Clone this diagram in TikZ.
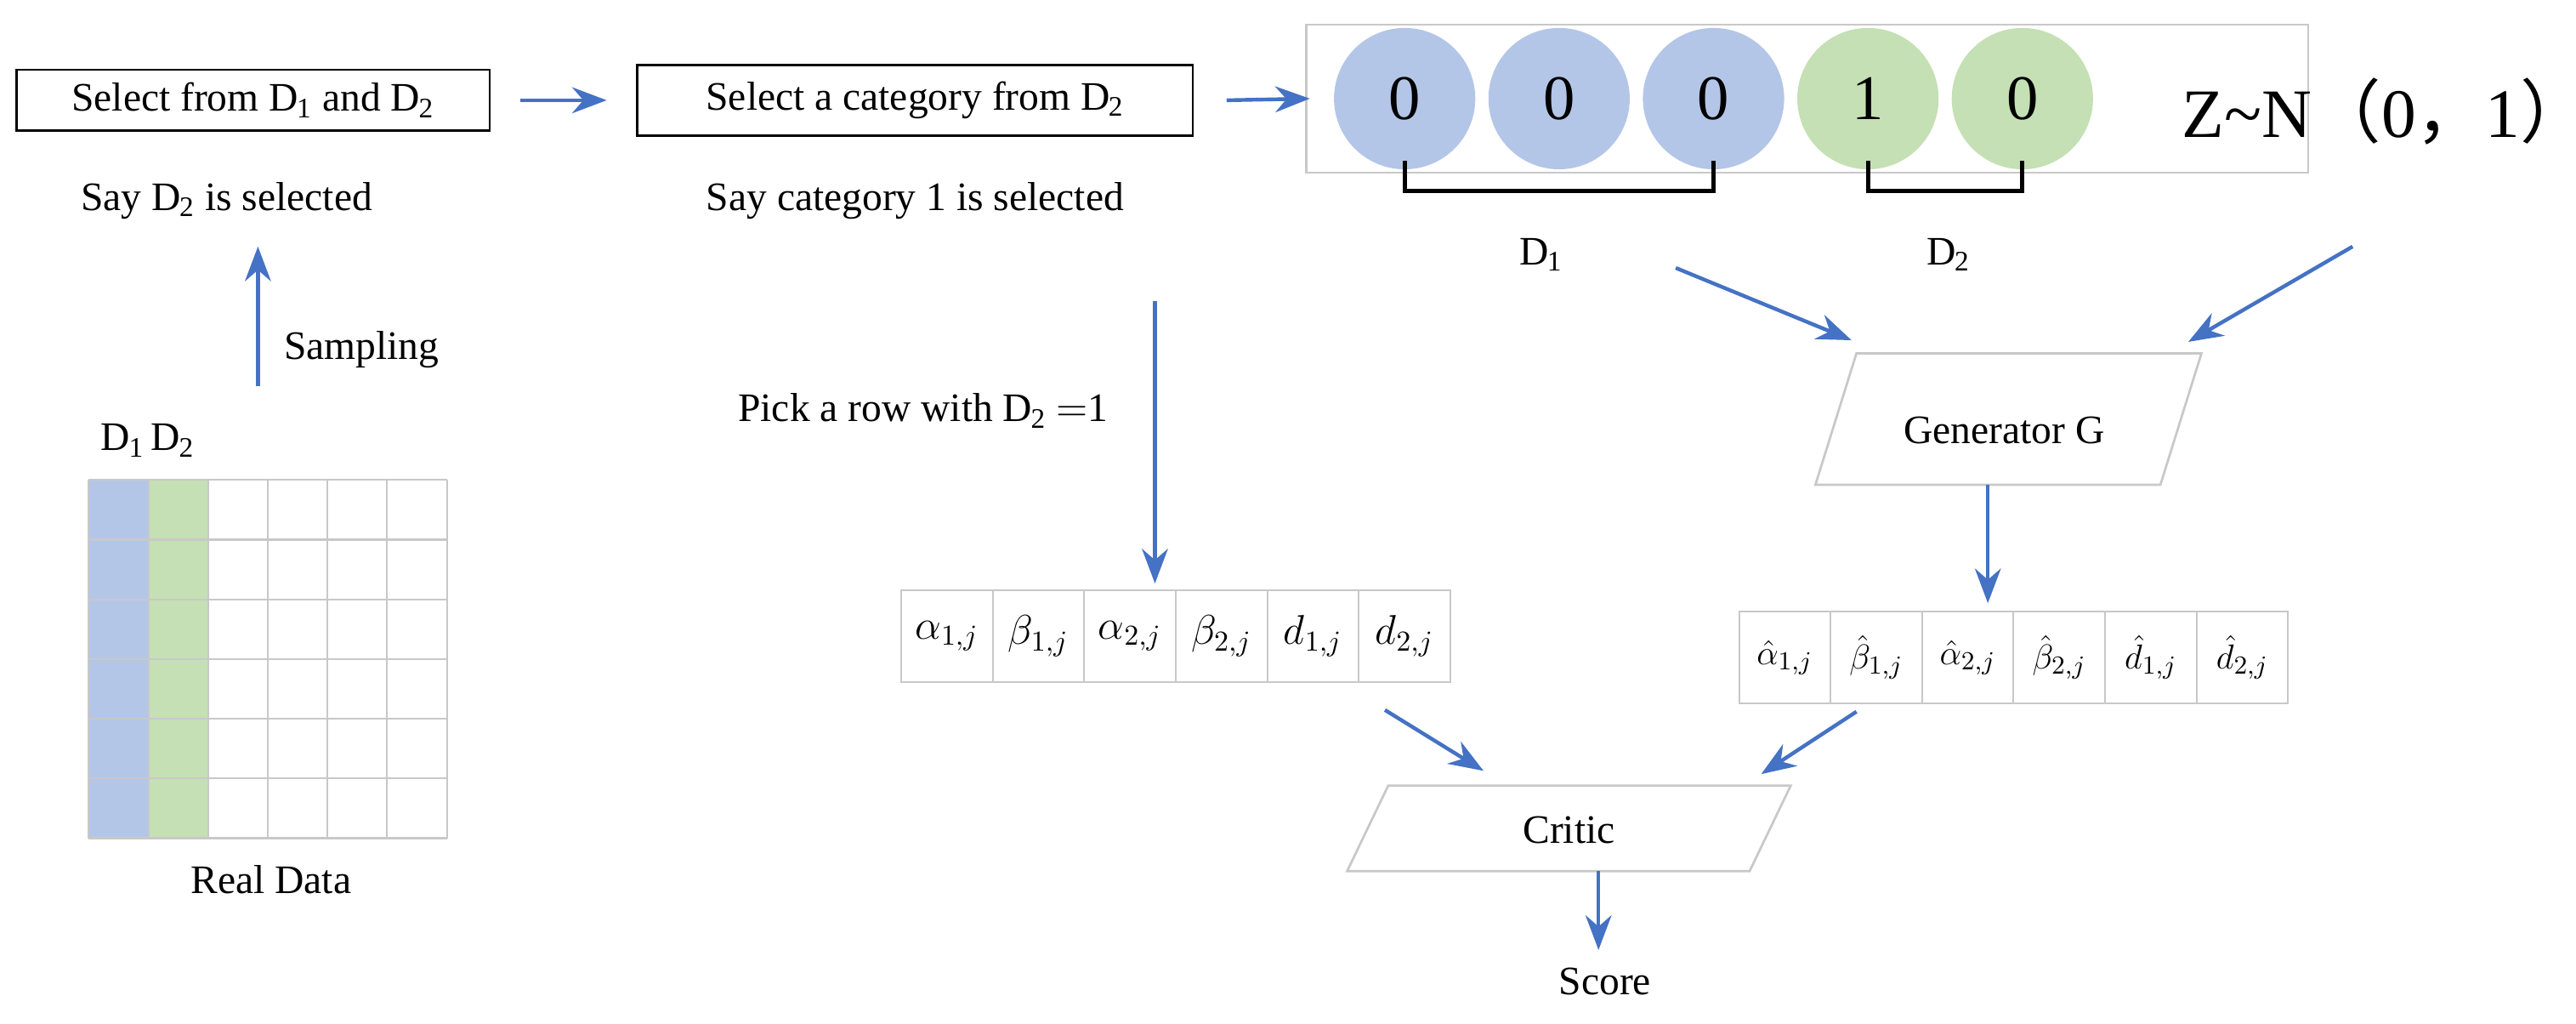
\documentclass[tikz,border=0pt]{standalone}
\usepackage{fontspec}
\setmainfont{Liberation Serif}
\newfontfamily\cjk{Noto Sans CJK SC}
\usetikzlibrary{arrows.meta,shapes.geometric,calc}
\definecolor{arr}{RGB}{68,114,196}
\definecolor{cblue}{RGB}{180,198,231}
\definecolor{cgreen}{RGB}{197,224,180}
\definecolor{grd}{RGB}{200,200,200}
\newcommand{\Dsub}[1]{D\textsubscript{\kern-0.5pt#1}}
\begin{document}
\begin{tikzpicture}[x=0.02cm,y=-0.02cm,font=\fontsize{14}{16}\selectfont,
  ar/.style={draw=arr,line width=1.3pt,-{Stealth[length=12pt,width=9pt]}},
  txt/.style={inner sep=0pt},
  cell/.style={draw=grd,line width=0.6pt,minimum width=55.7*0.02cm,minimum height=56*0.02cm,inner sep=0pt,anchor=west},
  circ/.style={circle,minimum size=86*0.02cm,inner sep=0pt,font=\fontsize{22}{24}\selectfont},
  para/.style={draw=grd,line width=0.8pt}]
\useasboundingbox (0,0) rectangle (1568,623);
% boxes
\node[draw,line width=0.8pt,minimum width=288*0.02cm,minimum height=37*0.02cm,inner sep=0pt] (b1) at (154,61) {Select from \Dsub{1} and \Dsub{2}};
\node[draw,line width=0.8pt,minimum width=338*0.02cm,minimum height=43*0.02cm,inner sep=0pt] (b2) at (557,61) {Select a category from \Dsub{2}};
\draw[ar] ($(b1.east)+(18,0)$) -- ($(b2.west)+(-18,0)$) ;
\node[txt] (s1) at (138,122) {Say \Dsub{2} is selected};
\node[txt] (s2) at (557,122) {Say category 1 is selected};
% one-hot
\node[draw=grd,line width=0.8pt,minimum width=610*0.02cm,minimum height=90*0.02cm,inner sep=0pt] (oh) at (1100,60) {};
\draw[ar] ($(b2.east)+(20,0)$) -- ($(oh.west)+(3,0)$);
\node[circ,fill=cblue] (c1) at (855,60) {0};
\node[circ,fill=cblue] (c2) at (949,60) {0};
\node[circ,fill=cblue] (c3) at (1043,60) {0};
\node[circ,fill=cgreen] (c4) at (1137,60) {1};
\node[circ,fill=cgreen] (c5) at (1231,60) {0};
\draw[line width=1.5pt] (855,98) -- (855,116) -- (1043,116) -- (1043,98);
\draw[line width=1.5pt] (1137,98) -- (1137,116) -- (1231,116) -- (1231,98);
\node[txt] (d1) at (938,155) {\Dsub{1}};
\node[txt] (d2) at (1186,155) {\Dsub{2}};
\node[txt,anchor=west,font=\fontsize{24}{26}\selectfont] (z) at (1328,68) {Z\textasciitilde N{\cjk （}0{\cjk ，}1{\cjk ）}};
% real data grid
\fill[cblue] (54,292) rectangle (90.3,510);
\fill[cgreen] (90.3,292) rectangle (126.6,510);
\foreach \k in {0,...,6} {
  \draw[grd,line width=0.6pt] (54+36.33*\k,292) -- (54+36.33*\k,510);
  \draw[grd,line width=0.6pt] (54,292+36.33*\k) -- (272,292+36.33*\k);
}
\node[txt] (dd) at (90,268) {\Dsub{1}\,\Dsub{2}};
\node[txt] (rd) at (165,535) {Real Data};
\coordinate (sa) at (157,235);
\draw[ar] (sa) -- (157,150);
\node[txt] (samp) at (220,213) {Sampling};
% pick row
\node[txt] (pick) at (562,250) {Pick a row with \Dsub{2} $=$1};
\coordinate (p0) at (703,183);
\draw[ar] (p0) -- (703,355);
% left table
\foreach \t [count=\i] in {$\alpha_{1,j}$,$\beta_{1,j}$,$\alpha_{2,j}$,$\beta_{2,j}$,$d_{1,j}$,$d_{2,j}$}
  \node[cell] (l\i) at (548+55.7*\i-55.7,387) {\t};
% generator
\draw[para] (1130,215) -- (1340,215) -- (1315,295) -- (1105,295) -- cycle;
\node[txt] (gen) at (1220,262) {Generator G};
\draw[ar] (1020,163) -- (1127,207);
\draw[ar] (1432,150) -- (1332,208);
\draw[ar] (1210,295) -- (1210,367);
% right table
\foreach \t [count=\i] in {$\hat\alpha_{1,j}$,$\hat\beta_{1,j}$,$\hat\alpha_{2,j}$,$\hat\beta_{2,j}$,$\hat d_{1,j}$,$\hat d_{2,j}$}
  \node[cell,font=\fontsize{13}{15}\selectfont] (r\i) at (1058+55.7*\i-55.7,400) {\t};
% critic
\draw[para] (845,478) -- (1090,478) -- (1065,530) -- (820,530) -- cycle;
\node[txt] (cr) at (955,505) {Critic};
\draw[ar] (843,432) -- (903,469);
\draw[ar] (1130,433) -- (1072,471);
\draw[ar] (973,530) -- (973,578);
\node[txt] (sc) at (977,597) {Score};
\end{tikzpicture}
\end{document}
